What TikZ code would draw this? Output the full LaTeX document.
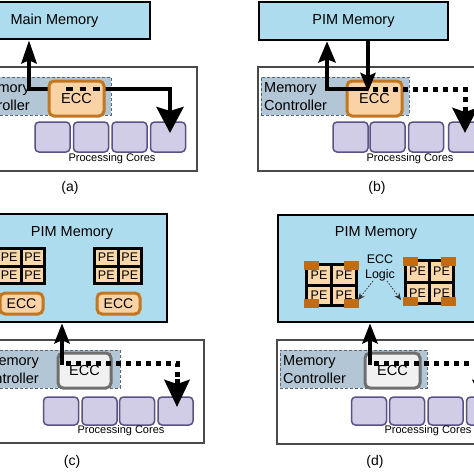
\documentclass[tikz,border=0pt]{standalone}
\usepackage{fontspec}
\setmainfont{Liberation Sans}
\usetikzlibrary{arrows.meta}
\definecolor{memblue}{HTML}{AEDCEF}
\definecolor{mcfill}{HTML}{B3C6D5}
\definecolor{mcborder}{HTML}{56687A}
\definecolor{eccfill}{HTML}{F9D3A6}
\definecolor{eccborder}{HTML}{C2761F}
\definecolor{corefill}{HTML}{D2CDE6}
\definecolor{coreborder}{HTML}{5A5285}
\definecolor{pefill}{HTML}{FAD8AA}
\definecolor{cornerc}{HTML}{C06C14}
\definecolor{grayfill}{HTML}{F1F1F1}
\definecolor{grayborder}{HTML}{6F6F6F}
\definecolor{outerc}{HTML}{4A4A4A}
\tikzset{
  membox/.style={draw=black, line width=2.5pt, fill=memblue, inner sep=0pt, font=\fontsize{14.5}{17}\selectfont},
  outerbox/.style={draw=outerc, line width=1.4pt, fill=white, inner sep=0pt},
  mcbox/.style={draw=mcborder, line width=0.9pt, dash pattern=on 3pt off 2pt, fill=mcfill, inner sep=0pt},
  mctext/.style={inner sep=0pt, font=\fontsize{14.5}{18}\selectfont},
  eccbox/.style={draw=eccborder, line width=3pt, fill=eccfill, rounded corners=5pt, inner sep=0pt, font=\fontsize{14.5}{17}\selectfont},
  graybox/.style={draw=grayborder, line width=3pt, fill=grayfill, rounded corners=5pt, inner sep=0pt, font=\fontsize{14.5}{17}\selectfont},
  corebox/.style={draw=coreborder, line width=1.5pt, fill=corefill, rounded corners=4pt, inner sep=0pt, minimum width=35pt, minimum height=30pt},
  pclabel/.style={inner sep=0pt, font=\fontsize{11}{13}\selectfont},
  panellabel/.style={inner sep=0pt, font=\fontsize{14}{16}\selectfont},
  pegroupbox/.style={fill=black, inner sep=0pt},
  pecell/.style={fill=pefill, inner sep=0pt, font=\fontsize{12.5}{14}\selectfont},
  cornersq/.style={fill=cornerc, inner sep=0pt, minimum width=15pt, minimum height=9pt},
  smallecc/.style={draw=eccborder, line width=3pt, fill=eccfill, rounded corners=5pt, inner sep=0pt, font=\fontsize{14}{16}\selectfont, minimum width=43pt, minimum height=21pt},
  solidarrow/.style={line width=4.5pt, draw=black, line join=miter},
  dottedarrow/.style={line width=5pt, draw=black, dash pattern=on 5pt off 5pt, line cap=butt},
  logicarrow/.style={line width=0.8pt, draw=black!80, dash pattern=on 1.5pt off 1.5pt, -{Stealth[length=7pt, width=6pt]}},
}
\newcommand\pegrp[5]{%
  \pgfmathsetmacro\cw{(#4-9)/2}%
  \pgfmathsetmacro\ch{(#5-9)/2}%
  \node[pegroupbox, minimum width=#4pt, minimum height=#5pt] (#1) at (#2,#3) {};
  \node[pecell, anchor=north west, minimum width=\cw pt, minimum height=\ch pt] (#1c1) at ([shift={(3,3)}]#1.north west) {PE};
  \node[pecell, anchor=north east, minimum width=\cw pt, minimum height=\ch pt] (#1c2) at ([shift={(-3,3)}]#1.north east) {PE};
  \node[pecell, anchor=south west, minimum width=\cw pt, minimum height=\ch pt] (#1c3) at ([shift={(3,-3)}]#1.south west) {PE};
  \node[pecell, anchor=south east, minimum width=\cw pt, minimum height=\ch pt] (#1c4) at ([shift={(-3,-3)}]#1.south east) {PE};
}
\newcommand\pecorners[1]{%
  \node[cornersq, anchor=north west] (#1k1) at ([shift={(-1,-2)}]#1.north west) {};
  \node[cornersq, anchor=north east] (#1k2) at ([shift={(1,-2)}]#1.north east) {};
  \node[cornersq, anchor=south west] (#1k3) at ([shift={(-1,1)}]#1.south west) {};
  \node[cornersq, anchor=south east] (#1k4) at ([shift={(1,1)}]#1.south east) {};
}
\begin{document}
\begin{tikzpicture}[x=1pt, y=-1pt]
\useasboundingbox (0,0) rectangle (474,474);
\clip (0,0) rectangle (474,474);

% ================= (a) =================
\node[membox, minimum width=191pt, minimum height=37pt] (mmA) at (54.5,20.5) {Main Memory};
\node[outerbox, minimum width=242pt, minimum height=104pt] (outA) at (76,119) {};
\node[mcbox, minimum width=156pt, minimum height=38pt] (mcA) at (33,96) {};
\node[mctext, anchor=east, align=right] (mctA) at (30,97) {Memory\\Controller};
\node[corebox] (cA1) at (52.5,137) {};
\node[corebox] (cA2) at (91,137) {};
\node[corebox] (cA3) at (129.5,137) {};
\node[corebox] (cA4) at (168,137) {};
\node[pclabel] (pcA) at (112,159) {Processing Cores};
\node[panellabel] (lbA) at (70,188) {(a)};
\coordinate (aT1) at (29,89);
\coordinate (aT2) at (170,89);
\coordinate (aEnd) at (170,133);
\draw[solidarrow, {Stealth[length=23pt, width=15pt, inset=3pt]}-{Stealth[length=26pt, width=27pt, inset=4pt]}] (aT1 |- mmA.south) -- (aT1) -- (aT2) -- (aEnd);
\node[eccbox, minimum width=55pt, minimum height=35pt] (eccA) at (76.5,98.5) {\raisebox{-3pt}{ECC}};
\coordinate (aD1) at (66,89);
\coordinate (aD2) at (101,89);
\draw[line width=4.5pt, dash pattern=on 6.5pt off 7pt] (aD1) -- (aD2);

% ================= (b) =================
\node[membox, minimum width=189pt, minimum height=38pt] (pimB) at (353.5,21) {PIM Memory};
\node[outerbox, minimum width=252pt, minimum height=104pt] (outB) at (384,119) {};
\node[mcbox, minimum width=148pt, minimum height=38pt] (mcB) at (335,96) {};
\node[mctext, anchor=west, align=left] (mctB) at (264,97) {Memory\\Controller};
\node[eccbox, minimum width=55pt, minimum height=35pt] (eccB) at (374.5,98.5) {\raisebox{-3pt}{ECC}};
\node[corebox] (cB1) at (350.5,137) {};
\node[corebox] (cB2) at (387.5,137) {};
\node[corebox] (cB3) at (426,137) {};
\node[corebox] (cB4) at (466,137) {};
\node[pclabel] (pcB) at (410,159) {Processing Cores};
\node[panellabel] (lbB) at (377,188) {(b)};
\coordinate (bS) at (368,89);
\coordinate (bT1) at (327,89);
\draw[solidarrow, -{Stealth[length=21pt, width=17pt, inset=3pt]}] (bS) -- (bT1) -- (bT1 |- pimB.south);
\coordinate (bDn) at (368,92);
\draw[solidarrow, -{Stealth[length=19pt, width=15pt, inset=3pt]}] (bDn |- pimB.south) -- (bDn);
\coordinate (bD0) at (373,89);
\coordinate (bD1) at (465,89);
\coordinate (bD2) at (465,133);
\draw[dottedarrow] (bD0) -- (bD1) -- ([shift={(0,-23)}]bD2);
\draw[line width=5pt, -{Stealth[length=25pt, width=25pt, inset=4pt]}] ([shift={(0,-26)}]bD2) -- (bD2);

% ================= (c) =================
\node[membox, minimum width=190pt, minimum height=108pt] (pimC) at (72,268) {};
\node[inner sep=0pt, font=\fontsize{14.5}{17}\selectfont] (pimCt) at (72,233) {PIM Memory};
\pegrp{gCL}{21}{266}{50}{38}
\pegrp{gCR}{118}{266}{50}{38}
\node[smallecc] (eCL) at (21.5,303.5) {ECC};
\node[smallecc] (eCR) at (118.5,303.5) {ECC};
\node[outerbox, minimum width=249pt, minimum height=103pt] (outC) at (79.5,391.5) {};
\node[mcbox, minimum width=165pt, minimum height=38pt] (mcC) at (37.5,369) {};
\node[mctext, anchor=east, align=right] (mctC) at (39,370) {Memory\\Controller};
\node[graybox, minimum width=53pt, minimum height=35pt] (eccC) at (84.5,370.5) {\raisebox{-3pt}{ECC}};
\node[corebox, minimum height=28pt] (cC1) at (61,411) {};
\node[corebox, minimum height=28pt] (cC2) at (99.5,411) {};
\node[corebox, minimum height=28pt] (cC3) at (137,411) {};
\node[corebox, minimum height=28pt] (cC4) at (175.5,411) {};
\node[pclabel] (pcC) at (121,431) {Processing Cores};
\node[panellabel] (lbC) at (72,462) {(c)};
\coordinate (cS) at (62,365);
\draw[solidarrow, -{Stealth[length=20pt, width=15pt, inset=3pt]}] (cS) -- (cS |- pimC.south);
\coordinate (cD0) at (66,363);
\coordinate (cD1) at (177,363);
\coordinate (cD2) at (177,407);
\draw[dottedarrow] (cD0) -- (cD1) -- ([shift={(0,-25)}]cD2);
\draw[line width=5pt, -{Stealth[length=27pt, width=25pt, inset=4pt]}] ([shift={(0,-28)}]cD2) -- (cD2);

% ================= (d) =================
\node[membox, minimum width=210pt, minimum height=107pt] (pimD) at (383,268.5) {};
\node[inner sep=0pt, font=\fontsize{14.5}{17}\selectfont] (pimDt) at (376,233) {PIM Memory};
\pegrp{gDL}{331.5}{285}{53}{44}
\pegrp{gDR}{429.5}{282}{51}{46}
\pecorners{gDL}
\pecorners{gDR}
\node[inner sep=0pt, font=\fontsize{12.5}{14.5}\selectfont, align=center] (logic) at (380,268) {ECC\\Logic};
\coordinate (lgL) at (373,281);
\coordinate (lgLt) at (358,300);
\coordinate (lgR) at (387,281);
\coordinate (lgRt) at (401,300);
\draw[logicarrow] (lgL) -- (lgLt);
\draw[logicarrow] (lgR) -- (lgRt);
\node[outerbox, minimum width=233pt, minimum height=104pt] (outD) at (393.5,392) {};
\node[mcbox, minimum width=147pt, minimum height=38pt] (mcD) at (353.5,369) {};
\node[mctext, anchor=west, align=left] (mctD) at (283,370) {Memory\\Controller};
\node[graybox, minimum width=55pt, minimum height=35pt] (eccD) at (392.5,370.5) {\raisebox{-3pt}{ECC}};
\node[corebox, minimum height=28pt] (cD1) at (369,411) {};
\node[corebox, minimum height=28pt] (cD2) at (407,411) {};
\node[corebox, minimum height=28pt] (cD3) at (445.5,411) {};
\node[corebox, minimum height=28pt] (cD4) at (484,411) {};
\node[pclabel] (pcD) at (428,431) {Processing Cores};
\node[panellabel] (lbD) at (375,462) {(d)};
\coordinate (dS) at (370,365);
\draw[solidarrow, -{Stealth[length=20pt, width=15pt, inset=3pt]}] (dS) -- (dS |- pimD.south);
\coordinate (dD0) at (374,363);
\coordinate (dD1) at (485,363);
\coordinate (dD2) at (485,407);
\draw[dottedarrow] (dD0) -- (dD1) -- ([shift={(0,-25)}]dD2);
\draw[line width=5pt, -{Stealth[length=27pt, width=25pt, inset=4pt]}] ([shift={(0,-28)}]dD2) -- (dD2);
\end{tikzpicture}
\end{document}
